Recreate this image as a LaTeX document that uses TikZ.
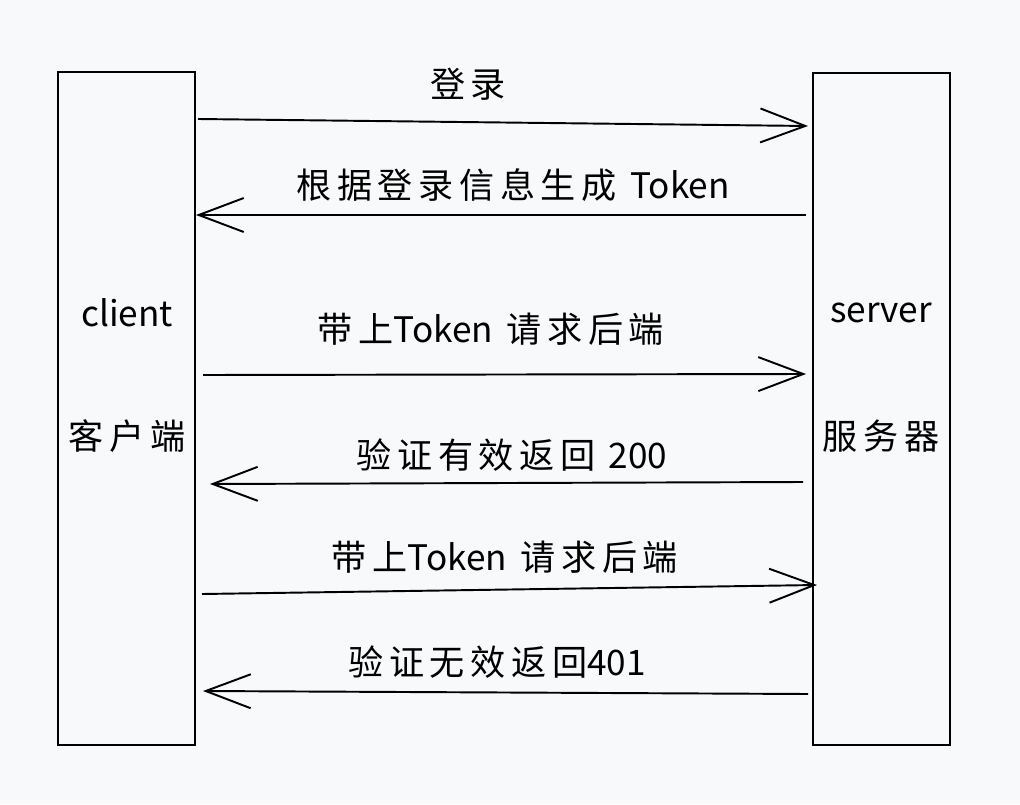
\documentclass[tikz,border=0pt]{standalone}
\usepackage{fontspec}
\setmainfont[LetterSpace=16]{Noto Sans CJK SC}
\newfontfamily\lat{Noto Sans CJK SC}
\usepackage{tikz}
\usetikzlibrary{arrows.meta}
\usetikzlibrary{positioning}
\tikzset{lane/.style = {draw, line width=1.1pt, minimum width=2.74cm, minimum height=13.46cm}}
\tikzset{msg/.style = {line width=1.1pt, -{Straight Barb[length=0.9cm, width=0.68cm]}}}
\tikzset{lbl/.style = {font=\fontsize{20}{22}\selectfont}}
\definecolor{mbg}{rgb}{0.973, 0.976, 0.980}

\begin{document}
\begin{tikzpicture}[x=0.02cm, y=-0.02cm]
    \fill [mbg] (0, 0) rectangle (1020, 804);

    \node [lane] (client) at (126.5, 408.5) {};
    \node [lane] (server) at (881.5, 409) {};
    \node [lbl] (cname) at (127, 313) {\lat client};
    \node [lbl] (ccn) at (127, 436) {客户端};
    \node [lbl] (sname) at (881, 313) {\lat server};
    \node [lbl] (scn) at (881, 436) {服务器};

    % request / response ends
    \coordinate (c1) at (198, 119);  \coordinate (s1) at (808, 126);
    \coordinate (s2) at (806, 215);  \coordinate (c2) at (196, 215);
    \coordinate (c3) at (203, 375);  \coordinate (s3) at (806, 374);
    \coordinate (s4) at (803, 482);  \coordinate (c4) at (210, 484);
    \coordinate (c5) at (202, 594);  \coordinate (s5) at (817, 585);
    \coordinate (s6) at (808, 694);  \coordinate (c6) at (203, 691);

    \draw [msg] (c1) -- (s1);
    \draw [msg] (s2) -- (c2);
    \draw [msg] (c3) -- (s3);
    \draw [msg] (s4) -- (c4);
    \draw [msg] (c5) -- (s5);
    \draw [msg] (s6) -- (c6);

    \node [lbl] (m1) at (468, 84) {登录};
    \node [lbl] (m2) at (513, 185) {根据登录信息生成 {\lat Token}};
    \node [lbl] (m3) at (491, 329) {带上{\lat Token} 请求后端};
    \node [lbl] (m4) at (512, 455) {验证有效返回 {\lat 200}};
    \node [lbl] (m5) at (505, 557) {带上{\lat Token} 请求后端};
    \node [lbl] (m6) at (497, 662) {验证无效返回{\lat 401}};
\end{tikzpicture}
\end{document}
